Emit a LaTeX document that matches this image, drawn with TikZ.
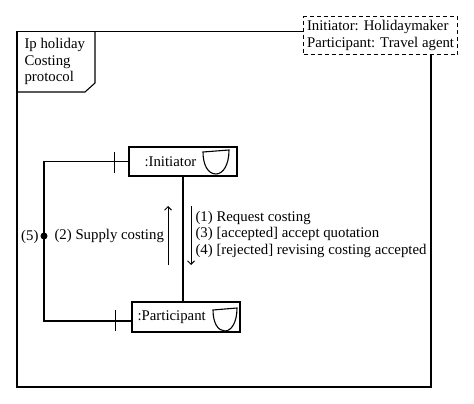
\documentclass[tikz,border=0pt]{standalone}
\usepackage{fontspec}
\setmainfont{Liberation Serif}
\usetikzlibrary{arrows.meta,calc}
\begin{document}
\begin{tikzpicture}[x=1pt,y=-1pt,line width=1.1pt,
  lbl/.style={inner sep=0pt,font=\fontsize{14.8}{16.5}\selectfont,align=left},
  obj/.style={draw,inner sep=0pt},
  cupline/.style={line width=1.1pt},
  msg/.style={-{Straight Barb[length=3.5pt,width=7pt]},line width=1pt},
  tick/.style={line width=1.1pt}]
\useasboundingbox (0,0) rectangle (474,404);
% roles box
\node[draw,dashed,dash pattern=on 4pt off 3pt,lbl,minimum width=154pt,minimum height=38pt,inner xsep=3pt,anchor=north west] (roles) at (303,16) {Initiator: Holidaymaker\\Participant: Travel agent};
% frame
\draw (roles.west |- 0,31.5) -- (17,31.5) -- (17,387) -- (431,387) -- (431,0 |- roles.south);
% name tab
\draw (95,31.5) -- (95,83) -- (85,92) -- (17,92);
\node[lbl,anchor=north west] (title) at (24,38) {Ip holiday\\Costing\\protocol};
% objects
\node[obj,minimum width=108pt,minimum height=29pt] (ini) at (183,161.5) {};
\node[lbl,anchor=west] (initxt) at (144,162) {:Initiator};
\draw[cupline] (203,152) -- (229,150) .. controls (229,165) and (223,174) .. (216,174) .. controls (208,174) and (203,165) .. cycle;
\node[obj,minimum width=108pt,minimum height=30pt] (par) at (186,317) {};
\node[lbl,anchor=west] (partxt) at (137,317) {:Participant};
\draw[cupline] (213,310) -- (237,308) .. controls (237,323) and (231,331) .. (225,331) .. controls (218,331) and (213,323) .. cycle;
% link
\draw (ini.south) -- (ini.south |- par.north);
\node[circle,fill,inner sep=0pt,minimum size=7pt] (dot) at (44,236) {};
\draw (ini.west) -| (dot.center) |- ($(par.west)+(0,4)$);
\draw[tick] ($(ini.west)+(-14,-10)$) -- ++(0,21);
\draw[tick] ($(par.west)+(-16,-7)$) -- ++(0,21);
% labels
\node[lbl,anchor=east] (five) at (39,237) {(5)};
\node[lbl,anchor=west] (supply) at (54,236) {(2) Supply costing};
\coordinate (ua) at (168,265);
\coordinate (ub) at (168,206);
\draw[msg] (ua) -- (ub);
\coordinate (da) at (191,206);
\coordinate (db) at (191,265);
\draw[msg] (da) -- (db);
\node[lbl,anchor=west] (msgs) at (195,234) {(1) Request costing\\(3) [accepted] accept quotation\\(4) [rejected] revising costing accepted};
\end{tikzpicture}
\end{document}
